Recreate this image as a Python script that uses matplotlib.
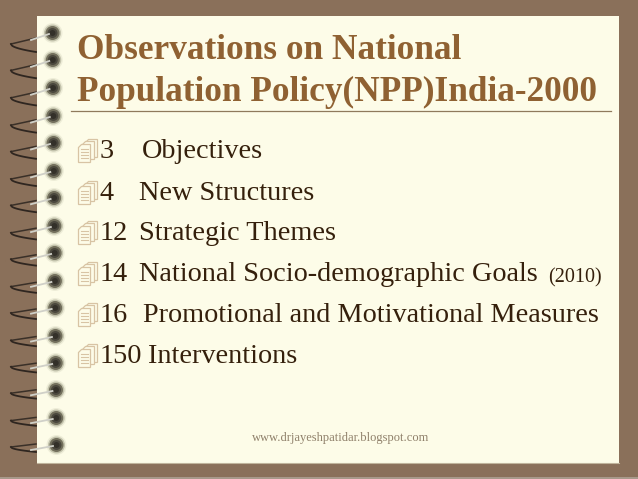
# %%
import matplotlib
matplotlib.use("Agg")
import matplotlib.pyplot as plt
import numpy as np
from matplotlib.patches import Rectangle, Ellipse, Polygon

plt.rcParams["font.family"] = ["Liberation Serif", "DejaVu Serif"]

title_lines = ["Observations on National", "Population Policy(NPP)India-2000"]
numbers = ["3", "4", "12", "14", "16", "150"]
items = ["Objectives", "New Structures", "Strategic Themes",
         "National Socio-demographic Goals", "Promotional and Motivational Measures",
         "Interventions"]
item_x = [142, 139, 139, 139, 143, 148]
item_y = [158, 200, 240, 281, 322, 363]
footer = "www.drjayeshpatidar.blogspot.com"
ring_y = [33, 60, 88, 116, 143, 171, 198, 226, 253, 281, 308, 336, 363, 390, 418, 445]

bg = "#8a705a"
paper = "#fdfce8"
title_color = "#8f6132"
text_color = "#35200c"
icon_color = "#d8c4a4"

# %%
fig = plt.figure(figsize=(6.38, 4.79), dpi=100, facecolor=bg)
ax = fig.add_axes([0, 0, 1, 1])
ax.set_xlim(0, 638)
ax.set_ylim(479, 0)
ax.axis("off")

ax.add_patch(Rectangle((0, 477), 638, 2, color="#a8998a", lw=0))
ax.add_patch(Rectangle((37, 16), 582, 447, color=paper, lw=0))
ax.plot([37, 619], [463, 463], color="#c0b49c", lw=0.8)
ax.plot([71, 611], [111, 111], color="#8f7a5c", lw=0.9)

# spiral binding, the loop flattens out going down the page
for k, y in enumerate(ring_y):
    f = k / (len(ring_y) - 1)
    hole_x = 52 + 4 * f
    t = np.linspace(0, 1, 30)
    top = (11 - 9 * f) - (6 - 3 * f) * t
    low = (11 - 9 * f) + (8 - 3 * f) * np.sqrt(t)
    ax.plot(11 + 25 * t, y + top, color="#3a3028", lw=1.1)
    ax.plot(11 + 25 * t, y + low, color="#2f2620", lw=1.3)
    ax.plot([31, hole_x - 3], [y + 7 - 2 * f, y + 1], color="#d0d0c8", lw=1.3)
    # soft edged eyelet
    for size, col, a in [(20, "#d8d8c0", 0.4), (17, "#b0b098", 0.7), (14, "#6a6654", 0.9), (10, "#46433a", 0.9), (6, "#2e2b24", 0.8)]:
        ax.add_patch(Ellipse((hole_x + 0.5, y), size, size, color=col, lw=0, alpha=a))

# title
for line, y in zip(title_lines, [59, 100.5]):
    ax.text(77, y, line, fontsize=25.4, fontweight="bold", color=title_color, va="baseline")

# bullets and items
for num, item, x, y in zip(numbers, items, item_x, item_y):
    for dx, dy in [(7, -5.5), (3.5, -3), (0, 0)]:
        ax.add_patch(Polygon([(81 + dx, y - 14 + dy), (90 + dx, y - 14 + dy),
                              (90 + dx, y + 4 + dy), (78 + dx, y + 4 + dy),
                              (78 + dx, y - 11 + dy)],
                             fc=paper, ec=icon_color, lw=0.9))
    for ly in [-9, -6, -3, 0]:
        ax.plot([80.5, 87.5], [y + ly, y + ly], color=icon_color, lw=0.8)
    ax.text(100, y, num, fontsize=20.3, color=text_color, va="baseline")
    ax.text(x, y, item, fontsize=20.3, color=text_color, va="baseline")

ax.text(548, 282, "(2010)", fontsize=14.5, color=text_color, va="baseline")
ax.text(340.5, 441, footer, fontsize=9, color="#8f806a", ha="center", va="baseline")

fig.savefig("out.png", dpi=100, facecolor=bg)
